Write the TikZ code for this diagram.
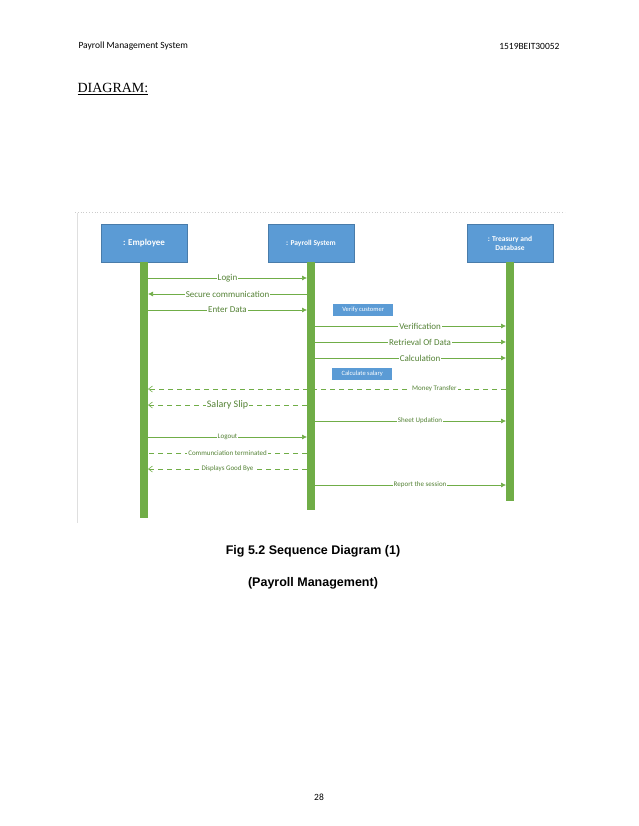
\documentclass[tikz,border=0pt]{standalone}
\usepackage{fontspec}
\setmainfont{Carlito}
\newfontfamily\arialf{Liberation Sans}
\newfontfamily\timesf{Liberation Serif}
\usetikzlibrary{arrows.meta}
\definecolor{bx}{HTML}{5B9BD5}
\definecolor{gr}{HTML}{70AD47}
\definecolor{tx}{HTML}{548235}
\tikzset{
 actor/.style={fill=bx,draw=bx!80!black,line width=0.3pt,minimum width=86pt,minimum height=38pt,text=white,font=\bfseries\fontsize{9}{11}\selectfont,align=center,inner sep=0pt},
 life/.style={gr,line width=8pt},
 msg/.style={draw=gr,line width=0.6pt,-{Latex[length=5pt,width=5pt]}},
 ret/.style={draw=gr,line width=0.6pt,dash pattern=on 5pt off 4pt,-{Straight Barb[length=4pt,width=6pt]}},
 lbl/.style={fill=white,text=tx,inner sep=1pt,font=\fontsize{9}{10}\selectfont},
 slbl/.style={fill=white,text=tx,inner sep=1pt,font=\fontsize{7}{8}\selectfont},
 note/.style={fill=bx,text=white,inner sep=1.5pt,minimum width=60pt,minimum height=12pt,font=\fontsize{6.5}{7}\selectfont,anchor=west},
}
\begin{document}
\begin{tikzpicture}[x=1pt,y=-1pt]
\useasboundingbox (0,0) rectangle (638,826);
\node[anchor=west,font=\fontsize{9.5}{11}\selectfont] (h1) at (75,46) {Payroll Management System};
\node[anchor=east,font=\fontsize{9.5}{11}\selectfont] (h2) at (563,46) {1519BEIT30052};
\node[anchor=west,font=\timesf\fontsize{14}{16}\selectfont] (dg) at (74,89) {\underline{DIAGRAM:}};
\draw[gray!40,dotted,line width=0.8pt] (75,212) -- (565,212);
\draw[gray!25,line width=0.5pt] (77,213) -- (77,523);
\node[actor] (emp) at (144,243) {: Employee};
\node[actor,font=\bfseries\fontsize{7.5}{9}\selectfont] (pay) at (311,243) {: Payroll System};
\node[actor,font=\bfseries\fontsize{7.5}{9}\selectfont] (tre) at (510,243) {: Treasury and\\Database};
\coordinate (e0) at (144,518); \coordinate (p0) at (311,510); \coordinate (t0) at (510,501);
\draw[life] (emp.south) -- (e0);
\draw[life] (pay.south) -- (p0);
\draw[life] (tre.south) -- (t0);
\foreach \n/\y in {a/278,b/294,c/310,d/326,e/342,f/358,g/389,h/405,i/421,j/437,k/453,l/469,m/485}{
 \coordinate (E\n) at (148,\y); \coordinate (P\n) at (307,\y); \coordinate (Q\n) at (315,\y); \coordinate (T\n) at (506,\y);}
\draw[msg] (Ea) -- node[lbl]{Login} (Pa);
\draw[msg] (Pb) -- node[lbl]{Secure communication} (Eb);
\draw[msg] (Ec) -- node[lbl]{Enter Data} (Pc);
\node[note] (vc) at (333,310) {Verify customer};
\draw[msg] (Qd) -- node[lbl,pos=0.55]{Verification} (Td);
\draw[msg] (Qe) -- node[lbl,pos=0.55]{Retrieval Of Data} (Te);
\draw[msg] (Qf) -- node[lbl,pos=0.55]{Calculation} (Tf);
\node[note] (cs) at (332,374) {Calculate salary};
\draw[ret] (Tg) -- node[slbl,pos=0.2]{Money Transfer} (Eg);
\draw[ret] (Ph) -- node[lbl,font=\fontsize{10}{11}\selectfont]{Salary Slip} (Eh);
\draw[msg] (Qi) -- node[slbl,pos=0.55]{Sheet Updation} (Ti);
\draw[msg] (Ej) -- node[slbl]{Logout} (Pj);
\draw[ret,-] (Pk) -- node[slbl]{Communciation terminated} (Ek);
\draw[ret] (Pl) -- node[slbl]{Displays Good Bye} (El);
\draw[msg] (Qm) -- node[slbl,pos=0.55]{Report the session} (Tm);
\node[font=\arialf\bfseries\fontsize{12.5}{14}\selectfont] (c1) at (313,551) {Fig 5.2 Sequence Diagram (1)};
\node[font=\arialf\bfseries\fontsize{12.5}{14}\selectfont] (c2) at (313,583) {(Payroll Management)};
\node[font=\fontsize{9.5}{11}\selectfont] (pg) at (319,797) {28};
\end{tikzpicture}
\end{document}
